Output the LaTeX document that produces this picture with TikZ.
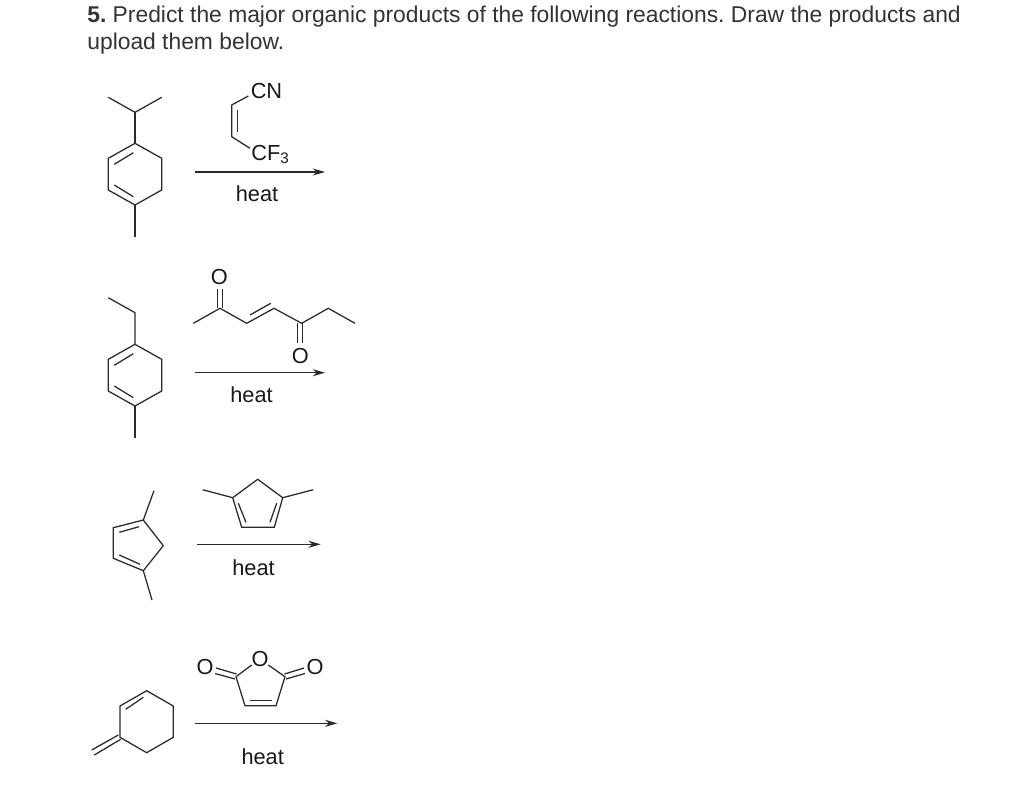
\documentclass[tikz,border=0pt]{standalone}
\usepackage{fontspec}
\setmainfont{Liberation Sans}
\usetikzlibrary{calc,arrows.meta}
\definecolor{headgray}{HTML}{333333}
\definecolor{bondgray}{HTML}{2A2A2A}
\def\dieneRing(#1,#2){\draw[bond] (#1,#2) -- (#1-26.7,#2+15) -- (#1-26.7,#2+46.7) -- (#1,#2+61.7) -- (#1+26.7,#2+46.7) -- (#1+26.7,#2+15) -- cycle;
	\draw[bond] (#1-20.7,#2+21) -- (#1-1.7,#2+9.4);
	\draw[bond] (#1-20.7,#2+41.7) -- (#1-1.7,#2+53.4);
	\draw[bond] (#1,#2+61.7) -- (#1,#2+93.4);}
\tikzset{
	bond/.style={line width=0.72pt, color=bondgray},
	rxnarrow/.style={line width=0.72pt, color=bondgray, -{Stealth[length=7pt,width=4pt]}},
	atomlabel/.style={font=\fontsize{12.4}{12.4}\selectfont, text=black!90, inner sep=0pt},
	headline/.style={font=\fontsize{13}{13}\selectfont\frenchspacing, text=headgray, inner sep=0pt, anchor=base west}
}
\begin{document}
\begin{tikzpicture}[x=0.02cm,y=-0.02cm]
	\useasboundingbox (0,0) rectangle (1024,788);
	%%%%% QUESTION %%%%%
	\node[headline] (lineone) at (87,22) {\textbf{5.} Predict the major organic products of the following reactions. Draw the products and};
	\node[headline] (linetwo) at (87,49) {upload them below.};

	%%%%% FIRST %%%%%
	\dieneRing(135,143.3)
	\draw[bond] (108.3,97.3) -- (135,112.3) -- (161.7,97.3);
	\draw[bond] (135,112.3) -- (135,143.3);
	\draw[bond] (248.3,96) -- (231.7,105) -- (231.7,136.7) -- (250,148.3);
	\draw[bond] (237.3,110) -- (237.3,131.7);
	\node[atomlabel] (cyano) at (266.5,91) {CN};
	\node[atomlabel] (trifluoro) at (270.5,154.5) {CF\textsubscript{3}};
	\coordinate (arrowonestart) at (195,172);
	\coordinate (arrowoneend) at (325,172);
	\draw[rxnarrow] (arrowonestart) -- (arrowoneend);
	\node[atomlabel] (heatone) at (257,194) {heat};

	%%%%% SECOND %%%%%
	\dieneRing(135,344.3)
	\draw[bond] (108.3,297.7) -- (135,312.7) -- (135,344.3);
	\draw[bond] (193.3,323.3) -- (220,308.3) -- (246.7,323.3) -- (274,308.3) -- (301.7,323.3) -- (328.3,308.3) -- (355,323.3);
	\draw[bond] (250,315) -- (270.7,303.3);
	\draw[bond] (217.7,308) -- (217.7,289.3);
	\draw[bond] (222.7,308) -- (222.7,289.3);
	\draw[bond] (297.7,323) -- (297.7,343.3);
	\draw[bond] (302.7,323) -- (302.7,343.3);
	\node[atomlabel] (oxoone) at (219.3,277) {O};
	\node[atomlabel] (oxotwo) at (300.3,356) {O};
	\coordinate (arrowtwostart) at (195,372.7);
	\coordinate (arrowtwoend) at (325,372.7);
	\draw[rxnarrow] (arrowtwostart) -- (arrowtwoend);
	\node[atomlabel] (heattwo) at (251.5,395) {heat};

	%%%%% THIRD %%%%%
	\draw[bond] (143.3,520) -- (113.3,527.7) -- (113.3,558.3) -- (143.3,570.7) -- (163.3,545.7) -- cycle;
	\draw[bond] (119.3,532.3) -- (139,526.7);
	\draw[bond] (119.3,555) -- (140,564.3);
	\draw[bond] (143.3,520) -- (154,490.7);
	\draw[bond] (143.3,570.7) -- (152,600);
	\draw[bond] (257.7,479.3) -- (232.7,497.7) -- (241.7,527.3) -- (274.3,527.3) -- (282.7,497.7) -- cycle;
	\draw[bond] (238.3,503.3) -- (246,522.3);
	\draw[bond] (276.7,503.3) -- (270,522.3);
	\draw[bond] (232.7,497.7) -- (202.7,489.7);
	\draw[bond] (282.7,497.7) -- (313.3,489.7);
	\coordinate (arrowthreestart) at (197.3,544.3);
	\coordinate (arrowthreeend) at (320.7,544.3);
	\draw[rxnarrow] (arrowthreestart) -- (arrowthreeend);
	\node[atomlabel] (heatthree) at (253.5,567.7) {heat};

	%%%%% FOURTH %%%%%
	\draw[bond] (146.7,690.7) -- (120,706) -- (120,737.3) -- (146.7,752.7) -- (173.3,737.3) -- (173.3,706) -- cycle;
	\draw[bond] (125.7,709.3) -- (143.3,697.3);
	\draw[bond] (118.3,735) -- (91.7,750);
	\draw[bond] (120.7,739.3) -- (94.3,755);
	\draw[bond] (251.7,665) -- (236,676.7) -- (245,705.7) -- (276,705.7) -- (285,676.7) -- (268.3,665);
	\draw[bond] (250,700.7) -- (271.7,700.7);
	\draw[bond] (236.5,674) -- (216,668);
	\draw[bond] (235,679) -- (215,673.5);
	\draw[bond] (284.5,674) -- (304,668);
	\draw[bond] (286,679) -- (305,673.5);
	\node[atomlabel] (oxoleft) at (205,667.3) {O};
	\node[atomlabel] (oxomid) at (260,659) {O};
	\node[atomlabel] (oxoright) at (315,667.3) {O};
	\coordinate (arrowfourstart) at (195,723.3);
	\coordinate (arrowfourend) at (337.3,723.3);
	\draw[rxnarrow] (arrowfourstart) -- (arrowfourend);
	\node[atomlabel] (heatfour) at (262.7,756.7) {heat};
\end{tikzpicture}
\end{document}
